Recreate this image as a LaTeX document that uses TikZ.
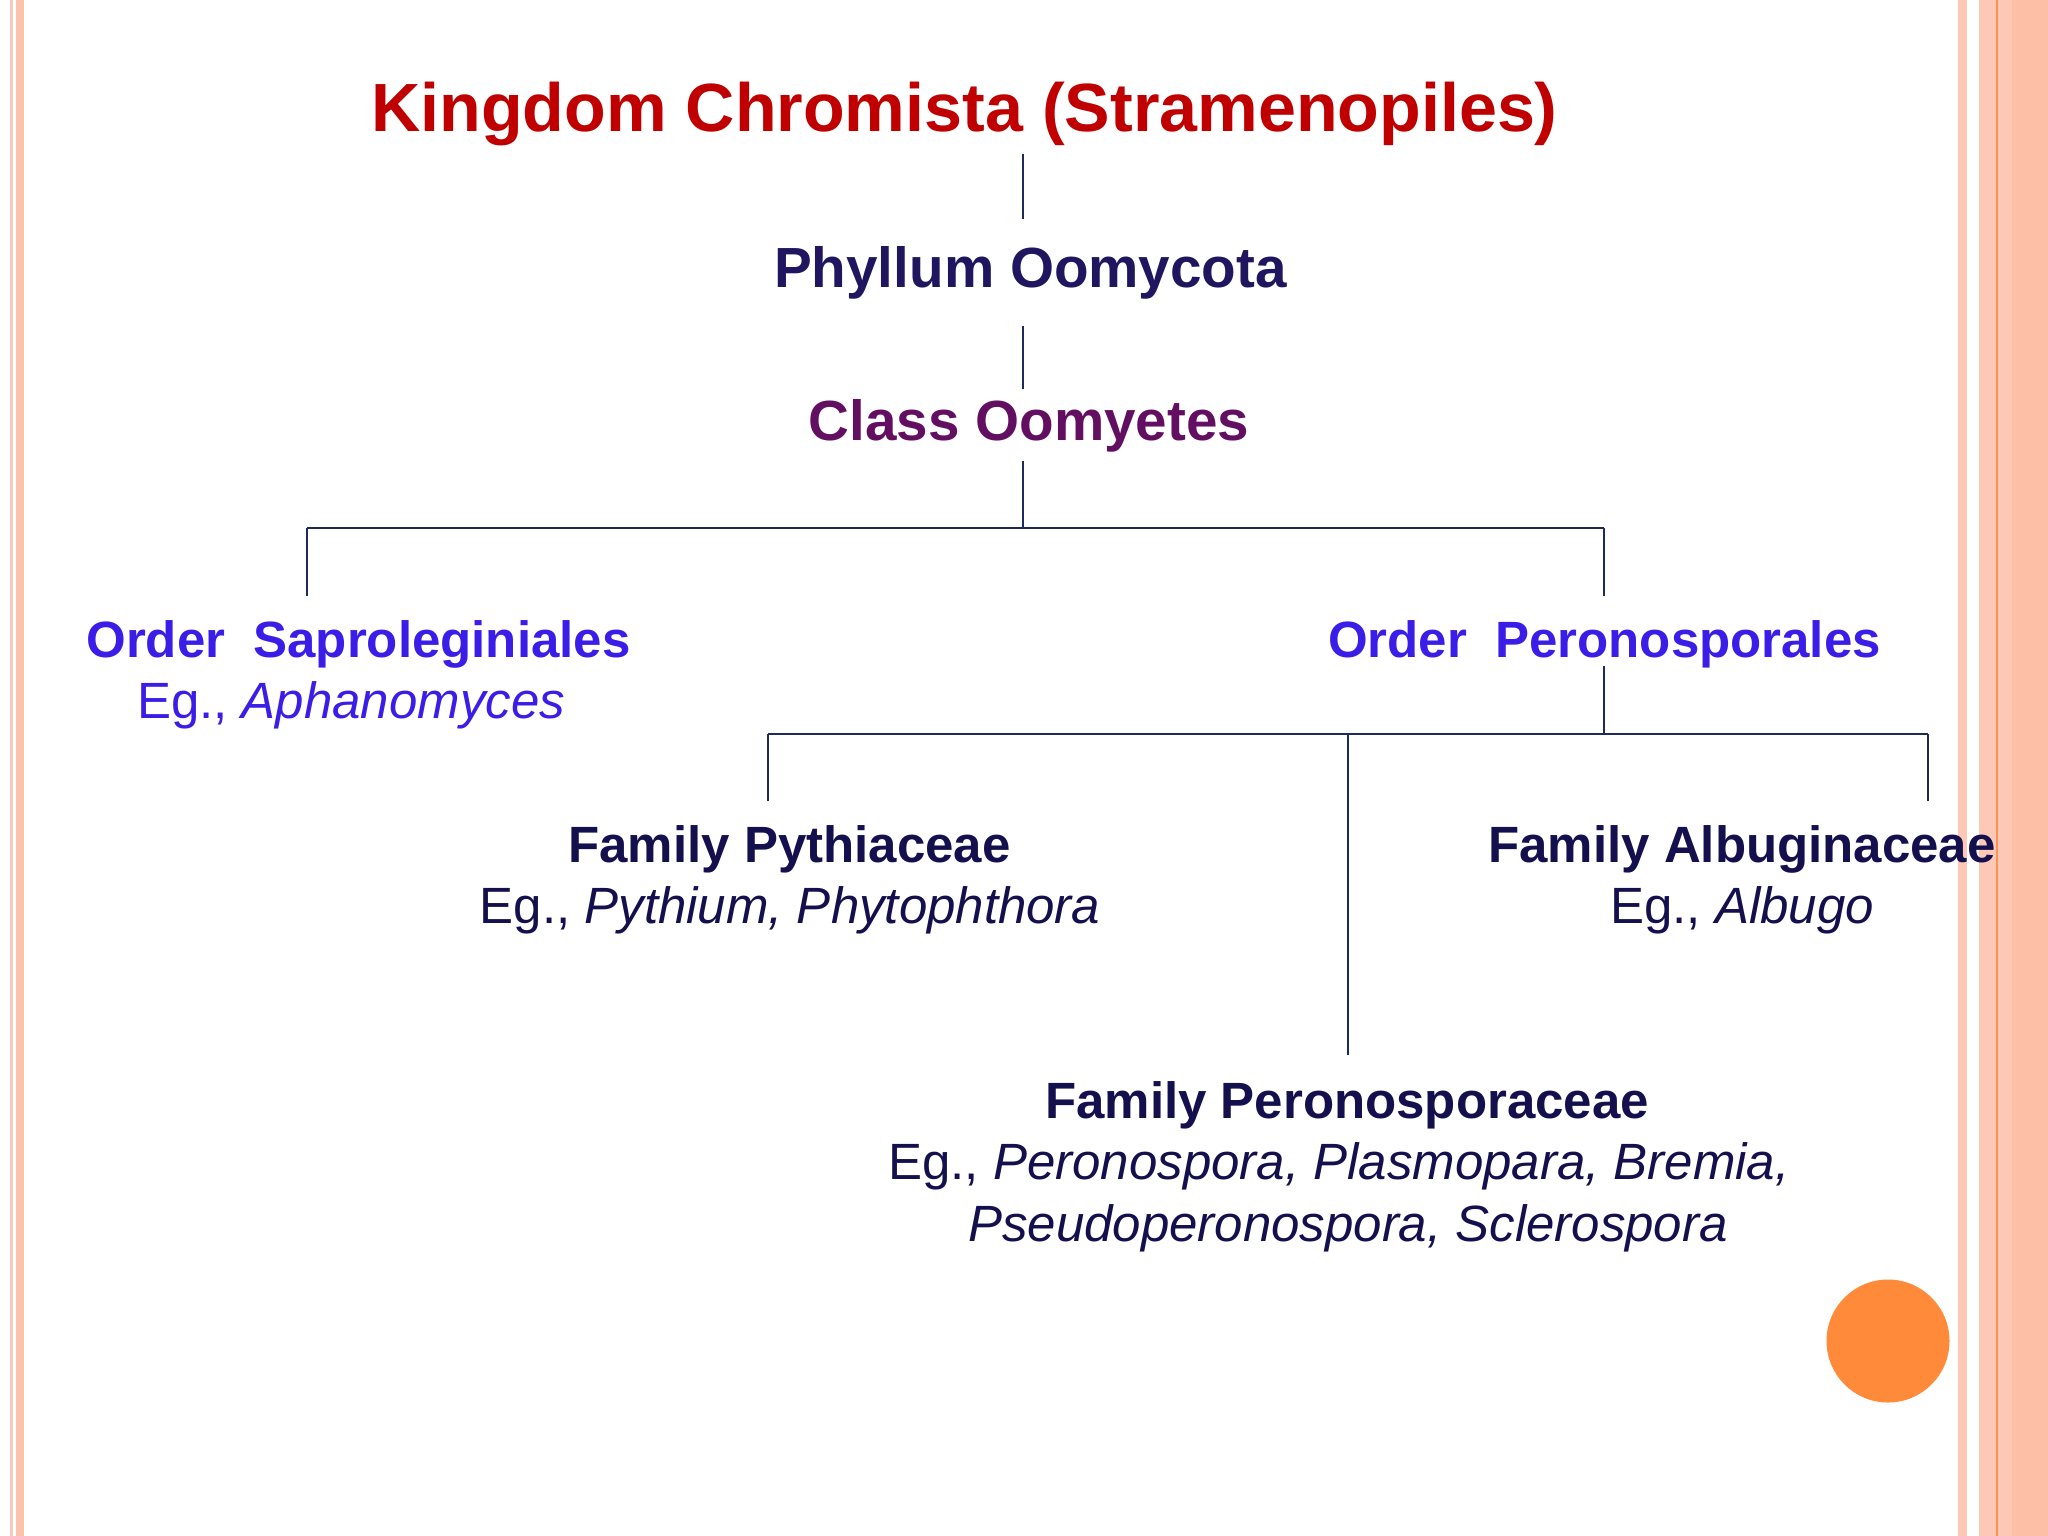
\documentclass[tikz,border=0pt]{standalone}
\usepackage{fontspec}
\setmainfont{Liberation Sans}
\definecolor{titlered}{HTML}{C00000}
\definecolor{navy}{HTML}{201660}
\definecolor{classpurple}{HTML}{620F62}
\definecolor{orderblue}{HTML}{3A1EE8}
\definecolor{famnavy}{HTML}{14104E}
\definecolor{linecol}{HTML}{1E2A5A}
\definecolor{stripeA}{HTML}{F6C9BE}
\definecolor{stripeB}{HTML}{FCC3AC}
\definecolor{stripeC}{HTML}{FDC9B6}
\definecolor{stripeD}{HTML}{FDBFA5}
\definecolor{stripeO}{HTML}{F5955A}
\definecolor{dotorange}{HTML}{FF8A3A}
\begin{document}
\begin{tikzpicture}[x=0.01cm,y=-0.01cm,
  lbl/.style={inner sep=0pt,anchor=base},
  big/.style={lbl,font=\fontsize{19.4}{23}\selectfont\bfseries,text=titlered},
  mid/.style={lbl,font=\fontsize{16.1}{19}\selectfont\bfseries},
  ord/.style={lbl,font=\fontsize{14.5}{17}\selectfont\bfseries,text=orderblue},
  ordeg/.style={lbl,font=\fontsize{14.5}{17}\selectfont,text=orderblue},
  fam/.style={lbl,font=\fontsize{14.5}{17}\selectfont\bfseries,text=famnavy},
  fameg/.style={lbl,font=\fontsize{14.5}{17}\selectfont,text=famnavy},
  conn/.style={draw=linecol,line width=0.75pt}]
% page
\fill[white] (0,0) rectangle (2048,1536);
\useasboundingbox (0,0) rectangle (2048,1536);
% borders
\fill[stripeA] (10,0) rectangle (13,1536);
\fill[stripeB] (16,0) rectangle (24,1536);
\fill[stripeC] (1958,0) rectangle (1967,1536);
\fill[stripeC] (1979,0) rectangle (1996,1536);
\fill[stripeO] (1996,0) rectangle (1998,1536);
\fill[stripeC] (1998,0) rectangle (2012,1536);
\fill[stripeD] (2012,0) rectangle (2048,1536);
% dot
\fill[dotorange] (1888,1341) circle (61.5);
% texts
\node[big] (kingdom) at (964.5,131) {Kingdom Chromista (Stramenopiles)};
\node[mid,text=navy] (phyllum) at (1030.5,287) {Phyllum Oomycota};
\node[mid,text=classpurple] (class) at (1029,440) {Class Oomyetes};
\node[ord] (sapro) at (358.5,657) {Order\ \ Saproleginiales};
\node[ordeg] (saproeg) at (351,718) {Eg., \textit{Aphanomyces}};
\node[ord] (perono) at (1604.5,657) {Order\ \ Peronosporales};
\node[fam] (pyth) at (789.5,862) {Family Pythiaceae};
\node[fameg] (pytheg) at (790,923) {Eg., \textit{Pythium, Phytophthora}};
\node[fam] (albu) at (1742,862) {Family Albuginaceae};
\node[fameg] (albueg) at (1742,923) {Eg., \textit{Albugo}};
\node[fam] (peronof) at (1347,1118) {Family Peronosporaceae};
\node[fameg] (peronoeg) at (1339,1179) {Eg., \textit{Peronospora, Plasmopara, Bremia,}};
\node[fameg] (peronoeg2) at (1348,1241) {\textit{Pseudoperonospora, Sclerospora}};
% connector points
\coordinate (k1) at (1023,154);
\coordinate (k2) at (1023,219);
\coordinate (p1) at (1023,326);
\coordinate (p2) at (1023,389);
\coordinate (c1) at (1023,461);
\coordinate (c2) at (1023,528);
\coordinate (hl) at (307,528);
\coordinate (hr) at (1604,528);
\coordinate (sl) at (307,596);
\coordinate (sr) at (1604,596);
\coordinate (o1) at (1604,666);
\coordinate (o2) at (1604,734);
\coordinate (fl) at (768,734);
\coordinate (fm) at (1348,734);
\coordinate (fr) at (1928,734);
\coordinate (fl2) at (768,801);
\coordinate (fm2) at (1348,1055);
\coordinate (fr2) at (1928,801);
% connectors
\draw[conn] (k1) -- (k2);
\draw[conn] (p1) -- (p2);
\draw[conn] (c1) -- (c2);
\draw[conn] (hl) -- (hr);
\draw[conn] (hl) -- (sl);
\draw[conn] (hr) -- (sr);
\draw[conn] (o1) -- (o2);
\draw[conn] (fl) -- (fr);
\draw[conn] (fl) -- (fl2);
\draw[conn] (fm) -- (fm2);
\draw[conn] (fr) -- (fr2);
\end{tikzpicture}
\end{document}
